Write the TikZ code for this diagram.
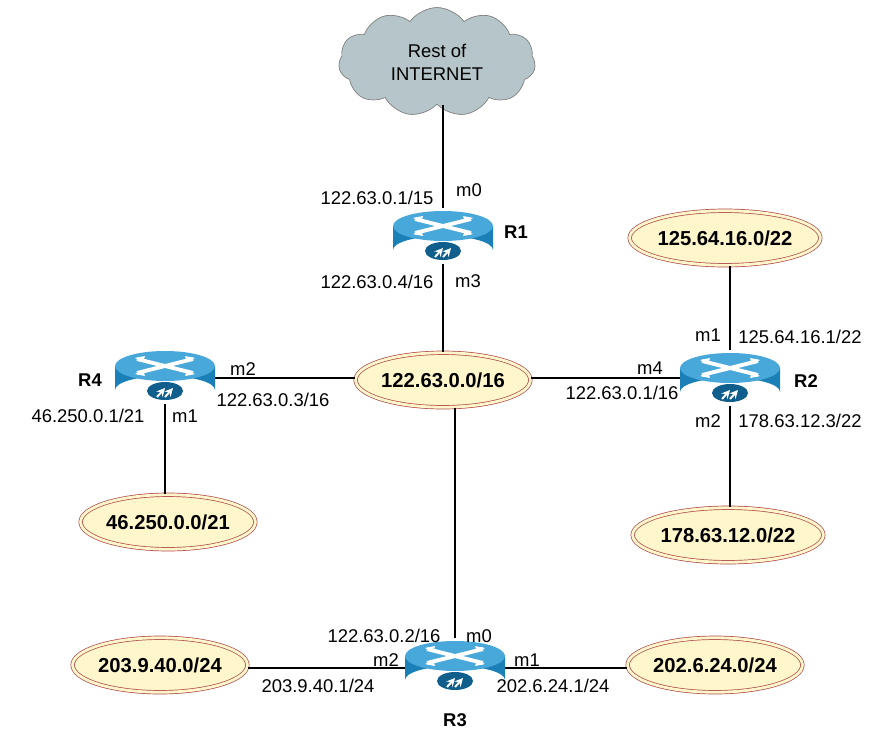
\documentclass[tikz,border=0pt]{standalone}
\usepackage{fontspec}
\setmainfont{Liberation Sans}
\usetikzlibrary{shapes.geometric,shapes.symbols}
\definecolor{rtop}{HTML}{48A8DA}
\definecolor{rbody}{HTML}{1B80B8}
\definecolor{rdark}{HTML}{0F5E8C}
\definecolor{netfill}{HTML}{FFF6CC}
\definecolor{netline}{HTML}{B04848}
\definecolor{cloudfill}{HTML}{B5C5C9}
\newcommand\drawrouter[1]{%
  \begin{scope}[shift={(#1)}]
    \fill[rbody] (-50,-10) -- (-50,14) arc[start angle=180,end angle=360,x radius=50,y radius=14] -- (50,-10) -- cycle;
    \fill[rtop] (0,-10) ellipse[x radius=50,y radius=15];
    \fill[rdark] (0,15) ellipse[x radius=18,y radius=9];
    \draw[white,line width=1.1pt,-stealth] (-8,21) -- (0,12);
    \draw[white,line width=1.1pt,-stealth] (0,21) -- (8,12);
    \draw[white,line width=2.2pt] (-28,-17) -- (28,-3);
    \draw[white,line width=2.2pt] (-28,-3) -- (28,-17);
    \fill[white] (-30,-18) -- (-20,-20) -- (-22,-14) -- cycle;
    \fill[white] (30,-18) -- (20,-20) -- (22,-14) -- cycle;
    \fill[white] (-30,-2) -- (-20,0) -- (-22,-6) -- cycle;
    \fill[white] (30,-2) -- (20,0) -- (22,-6) -- cycle;
  \end{scope}}
\tikzset{
  rt/.style={rectangle,minimum width=57pt,minimum height=31pt,inner sep=0},
  net/.style={ellipse,fill=netfill,draw=netline,double=netfill,double distance=1.6pt,
    minimum width=97pt,minimum height=31pt,font=\bfseries\fontsize{11.5}{13}\selectfont,inner sep=0},
  lab/.style={font=\fontsize{10.5}{12}\selectfont,inner sep=1pt},
  rn/.style={font=\bfseries\fontsize{10.5}{12}\selectfont},
  link/.style={line width=1.2pt}
}
\begin{document}
\begin{tikzpicture}[x=0.02cm,y=-0.02cm]
\useasboundingbox (0,0) rectangle (869,744);
\node[cloud,cloud puffs=11,cloud puff arc=110,aspect=1.9,fill=cloudfill,draw=gray,minimum width=112pt,minimum height=62pt,align=center,font=\fontsize{10.5}{13}\selectfont] (cloud) at (437,62) {Rest of\\INTERNET};
\node[rt] (R1) at (443,236) {};
\node[rt] (R4) at (165,376) {};
\node[rt] (R2) at (730,378) {};
\node[rt] (R3) at (455,666) {};
\node[net] (N0) at (443,380) {122.63.0.0/16};
\node[net] (N1) at (725,238) {125.64.16.0/22};
\node[net] (N2) at (728,535) {178.63.12.0/22};
\node[net] (N3) at (168,522) {46.250.0.0/21};
\node[net] (N4) at (160,665) {203.9.40.0/24};
\node[net] (N5) at (715,665) {202.6.24.0/24};
\draw[link] (cloud.south -| R1) -- (R1);
\draw[link] (R1) -- (N0);
\draw[link] (R4.east |- 0,378) -- (N0.west |- 0,378);
\draw[link] (N0.east |- 0,378) -- (R2.west |- 0,378);
\draw[link] (N0.south -| 455,0) -- (R3);
\draw[link] (R4) -- (R4 |- N3.north);
\draw[link] (R2) -- (R2 |- N1.south);
\draw[link] (R2) -- (R2 |- N2.north);
\draw[link] (N4.east |- 0,668) -- (R3.west |- 0,668);
\draw[link] (R3.east |- 0,668) -- (N5.west |- 0,668);
\drawrouter{R1}\drawrouter{R4}\drawrouter{R2}\drawrouter{R3}
\node[rn] (lR1) at (516,232) {R1};
\node[rn] (lR4) at (90,380) {R4};
\node[rn] (lR2) at (806,381) {R2};
\node[rn] (lR3) at (455,720) {R3};
\node[lab] (a1) at (377,198) {122.63.0.1/15};
\node[lab] (a2) at (469,190) {m0};
\node[lab] (a3) at (377,282) {122.63.0.4/16};
\node[lab] (a4) at (468,281) {m3};
\node[lab] (b1) at (243,369) {m2};
\node[lab] (b2) at (273,400) {122.63.0.3/16};
\node[lab] (b3) at (88,416) {46.250.0.1/21};
\node[lab] (b4) at (185,416) {m1};
\node[lab] (c1) at (650,368) {m4};
\node[lab] (c2) at (622,393) {122.63.0.1/16};
\node[lab] (c3) at (708,335) {m1};
\node[lab] (c4) at (800,337) {125.64.16.1/22};
\node[lab] (c5) at (708,421) {m2};
\node[lab] (c6) at (800,421) {178.63.12.3/22};
\node[lab] (d1) at (384,636) {122.63.0.2/16};
\node[lab] (d2) at (479,636) {m0};
\node[lab] (d3) at (386,660) {m2};
\node[lab] (d4) at (318,686) {203.9.40.1/24};
\node[lab] (d5) at (527,660) {m1};
\node[lab] (d6) at (553,686) {202.6.24.1/24};
\end{tikzpicture}
\end{document}
